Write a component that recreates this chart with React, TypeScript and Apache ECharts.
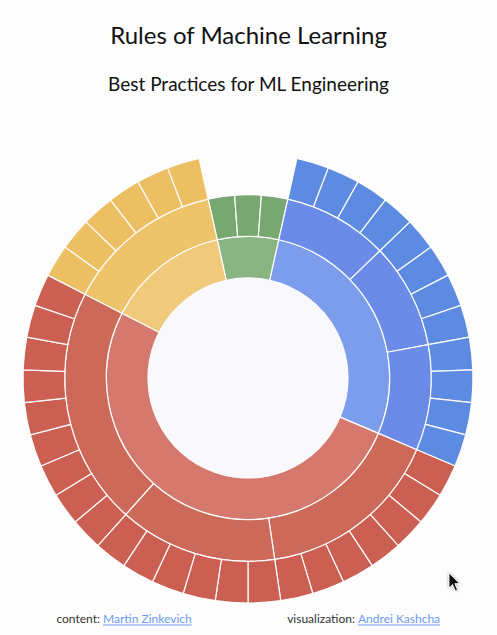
import React, { useEffect, useRef } from "react";
import * as echarts from "echarts";

// ---- data: every rule counts as one unit ----
const ruleWeight = 1;

const beforeML = [
  "Rule #1: Don't be afraid to launch a product without machine learning",
  "Rule #2: First, design and implement metrics",
  "Rule #3: Choose machine learning over a complex heuristic",
];
const firstPipeline = [
  "Rule #4: Keep the first model simple and get the infrastructure right",
  "Rule #5: Test the infrastructure independently from the machine learning",
  "Rule #6: Be careful about dropped data when copying pipelines",
  "Rule #7: Turn heuristics into features, or handle them externally",
];
const monitoring = [
  "Rule #8: Know the freshness requirements of your system",
  "Rule #9: Detect problems before exporting models",
  "Rule #10: Watch for silent failures",
  "Rule #11: Give feature columns owners and documentation",
];
const firstObjective = [
  "Rule #12: Don't overthink which objective you choose to directly optimize",
  "Rule #13: Choose a simple, observable and attributable metric for your first objective",
  "Rule #14: Starting with an interpretable model makes debugging easier",
  "Rule #15: Separate spam filtering and quality ranking in a policy layer",
];
const featureEngineering = [
  "Rule #16: Plan to launch and iterate",
  "Rule #17: Start with directly observed and reported features",
  "Rule #18: Explore with features of content that generalize across contexts",
  "Rule #19: Use very specific features when you can",
  "Rule #20: Combine and modify existing features in human-understandable ways",
  "Rule #21: Feature weights you can learn are proportional to the data you have",
  "Rule #22: Clean up features you are no longer using",
];
const humanAnalysis = [
  "Rule #23: You are not a typical end user",
  "Rule #24: Measure the delta between models",
  "Rule #25: When choosing models, utilitarian performance trumps predictive power",
  "Rule #26: Look for patterns in the measured errors, and create new features",
  "Rule #27: Try to quantify observed undesirable behavior",
  "Rule #28: Identical short-term behavior does not imply identical long-term behavior",
];
const trainingServingSkew = [
  "Rule #29: Save the set of features used at serving time",
  "Rule #30: Importance-weight sampled data, don't arbitrarily drop it",
  "Rule #31: Joined table data may change between training and serving",
  "Rule #32: Re-use code between training and serving pipelines",
  "Rule #33: Test the model on data from after the training period",
  "Rule #34: Make small short-term sacrifices for very clean data",
  "Rule #35: Beware of the inherent skew in ranking problems",
  "Rule #36: Avoid feedback loops with positional features",
  "Rule #37: Measure Training/Serving Skew",
];
const slowedGrowth = [
  "Rule #38: Don't waste time on new features if unaligned objectives are the issue",
  "Rule #39: Launch decisions are a proxy for long-term product goals",
  "Rule #40: Keep ensembles simple",
  "Rule #41: When performance plateaus, look for new sources of information",
  "Rule #42: Don't expect diversity, personalization, or relevance to track popularity",
  "Rule #43: Your friends tend to be the same across different products",
];

// ---- colours per branch: [inner, middle, outer] ----
const green = ["#89b582", "#76a870"];
const blue = ["#7b9deb", "#6a8ce8", "#5e8be2"];
const red = ["#d5786d", "#cc6959", "#cb5f51"];
const yellow = ["#f0c97b", "#edc46a", "#ecbf62"];

const leaves = (names: string[], color: string) =>
  names.map((name) => ({ name, value: ruleWeight, itemStyle: { color } }));

const buildData = () => [
  {
    name: "Before Machine Learning",
    itemStyle: { color: green[0] },
    children: leaves(beforeML, green[1]),
  },
  {
    name: "ML Phase I: Your First Pipeline",
    itemStyle: { color: blue[0] },
    children: [
      { name: "Your First Pipeline", itemStyle: { color: blue[1] }, children: leaves(firstPipeline, blue[2]) },
      { name: "Monitoring", itemStyle: { color: blue[1] }, children: leaves(monitoring, blue[2]) },
      { name: "Your First Objective", itemStyle: { color: blue[1] }, children: leaves(firstObjective, blue[2]) },
    ],
  },
  {
    name: "ML Phase II: Feature Engineering",
    itemStyle: { color: red[0] },
    children: [
      { name: "Feature Engineering", itemStyle: { color: red[1] }, children: leaves(featureEngineering, red[2]) },
      { name: "Human Analysis of the System", itemStyle: { color: red[1] }, children: leaves(humanAnalysis, red[2]) },
      { name: "Training-Serving Skew", itemStyle: { color: red[1] }, children: leaves(trainingServingSkew, red[2]) },
    ],
  },
  {
    name: "ML Phase III: Slowed Growth, Optimization Refinement, and Complex Models",
    itemStyle: { color: yellow[0] },
    children: [
      {
        name: "Slowed Growth, Optimization Refinement, and Complex Models",
        itemStyle: { color: yellow[1] },
        children: leaves(slowedGrowth, yellow[2]),
      },
    ],
  },
];

const W = 497;
const H = 635;
const CX = 248;
const CY = 378;
const FONT = "Lato, 'Noto Sans', sans-serif";

function measure(text: string, size: number) {
  const c = document.createElement("canvas");
  const ctx = c.getContext("2d");
  if (!ctx) return text.length * size * 0.5;
  ctx.font = `${size}px Lato`;
  return ctx.measureText(text).width;
}

export default function App() {
  const ref = useRef<HTMLDivElement>(null);
  useEffect(() => {
    if (!ref.current) return;
    const chart = echarts.init(ref.current, undefined, { renderer: "svg" });
    const totalRules =
      beforeML.length + firstPipeline.length + monitoring.length + firstObjective.length +
      featureEngineering.length + humanAnalysis.length + trainingServingSkew.length + slowedGrowth.length;
    const startAngle = 90 + ((beforeML.length / totalRules) * 360) / 2;

    const footSize = 12;
    const linkColor = "#6b9bf0";
    const link1 = "Martin Zinkevich";
    const link2 = "Andrei Kashcha";
    const l1x = 103;
    const l2x = 358;
    const footY = 618;
    const ulY = 625;
    const l1w = measure(link1, footSize);
    const l2w = measure(link2, footSize);

    chart.setOption({
      animation: false,
      backgroundColor: "#fdfdfd",
      graphic: [
        { type: "circle", z: 0, shape: { cx: CX, cy: CY, r: 100 }, style: { fill: "#f9f9fd" } },
        {
          type: "text", x: W / 2, y: 34, z: 10,
          style: { text: "Rules of Machine Learning", fill: "#111", font: `24px ${FONT}`, align: "center", verticalAlign: "middle" },
        },
        {
          type: "text", x: W / 2, y: 83, z: 10,
          style: { text: "Best Practices for ML Engineering", fill: "#111", font: `19px ${FONT}`, align: "center", verticalAlign: "middle" },
        },
        {
          type: "text", x: l1x - 3, y: footY, z: 10,
          style: { text: "content:", fill: "#333", font: `${footSize}px ${FONT}`, align: "right", verticalAlign: "middle" },
        },
        {
          type: "text", x: l1x, y: footY, z: 10,
          style: { text: link1, fill: linkColor, font: `${footSize}px ${FONT}`, align: "left", verticalAlign: "middle" },
        },
        { type: "line", z: 10, shape: { x1: l1x, y1: ulY, x2: l1x + l1w, y2: ulY }, style: { stroke: linkColor, lineWidth: 1 } },
        {
          type: "text", x: l2x - 3, y: footY, z: 10,
          style: { text: "visualization:", fill: "#333", font: `${footSize}px ${FONT}`, align: "right", verticalAlign: "middle" },
        },
        {
          type: "text", x: l2x, y: footY, z: 10,
          style: { text: link2, fill: linkColor, font: `${footSize}px ${FONT}`, align: "left", verticalAlign: "middle" },
        },
        { type: "line", z: 10, shape: { x1: l2x, y1: ulY, x2: l2x + l2w, y2: ulY }, style: { stroke: linkColor, lineWidth: 1 } },
        {
          type: "polygon", z: 10,
          shape: { points: [[449, 573], [449, 588], [452.5, 584.5], [455.5, 591], [457.5, 590], [454.8, 583.6], [459.5, 583.6]] },
          style: { fill: "#111", stroke: "#fff", lineWidth: 0.8, shadowBlur: 3, shadowColor: "rgba(0,0,0,0.4)" },
        },
      ],
      series: [
        {
          type: "sunburst",
          center: [CX, CY],
          radius: [100, 225],
          startAngle,
          clockwise: true,
          sort: null,
          nodeClick: false,
          data: buildData(),
          label: { show: false },
          itemStyle: { borderColor: "#fdfdfd", borderWidth: 1.2 },
          emphasis: { focus: "none" },
        },
      ],
    });
    return () => chart.dispose();
  }, []);
  return <div ref={ref} style={{ position: "fixed", left: 0, top: 0, width: W, height: H }} />;
}
